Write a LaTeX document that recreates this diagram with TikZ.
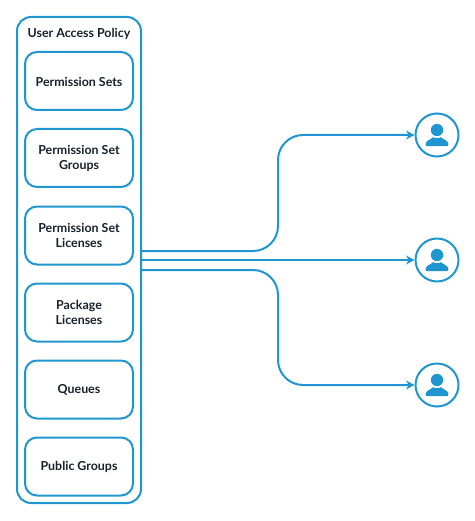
\documentclass[tikz,border=0pt]{standalone}
\usepackage{fontspec}
\setmainfont{Lato}
\usetikzlibrary{arrows.meta,calc}
\definecolor{sfblue}{HTML}{2096D0}
\definecolor{ink}{HTML}{16202B}
\tikzset{
  x=1pt,y=-1pt,
  outerbox/.style={draw=sfblue,line width=2pt,rounded corners=14pt,minimum width=124pt,minimum height=486pt,inner sep=0pt},
  itembox/.style={draw=sfblue,line width=2pt,rounded corners=12pt,minimum width=108pt,minimum height=58pt,align=center,inner sep=0pt},
  itemtext/.style={align=center,font=\fontsize{12.4}{15}\selectfont\bfseries,text=ink,inner sep=0pt},
  title/.style={font=\fontsize{12.4}{14}\selectfont\bfseries,text=ink,inner sep=0pt},
  usercircle/.style={draw=sfblue,line width=2pt,circle,minimum size=43pt,inner sep=0pt},
  link/.style={draw=sfblue,line width=2pt,rounded corners=25pt,-{Stealth[length=8.5pt,width=9pt]}},
}
\newcommand{\personicon}[1]{%
  \fill[sfblue] ($(#1)+(0,-5)$) circle (6.2pt);
  \fill[sfblue] ($(#1)+(-9.5,11.2)$)
    .. controls ($(#1)+(-11,11.2)$) and ($(#1)+(-11.4,10.5)$) .. ($(#1)+(-11.4,9)$)
    .. controls ($(#1)+(-11.4,5.5)$) and ($(#1)+(-6,4.5)$) .. ($(#1)+(-4,2.2)$)
    .. controls ($(#1)+(-2,3.4)$) and ($(#1)+(2,3.4)$) .. ($(#1)+(4,2.2)$)
    .. controls ($(#1)+(6,4.5)$) and ($(#1)+(11.4,5.5)$) .. ($(#1)+(11.4,9)$)
    .. controls ($(#1)+(11.4,10.5)$) and ($(#1)+(11,11.2)$) .. ($(#1)+(9.5,11.2)$)
    -- cycle;
}
\begin{document}
\begin{tikzpicture}
\useasboundingbox (0,0) rectangle (474,521);
\node[outerbox] (policy) at (79,260) {};
\node[title] (ptitle) at (79,33.5) {User Access Policy};
\node[itembox] (a) at (79,81) {};
\node[itembox] (b) at (79,158) {};
\node[itembox] (c) at (79,235.5) {};
\node[itembox] (d) at (79,312.5) {};
\node[itembox] (e) at (79,389.5) {};
\node[itembox] (f) at (79,466.5) {};
\node[itemtext] (ta) at (79,81.7) {Permission Sets};
\node[itemtext] (tb) at (79,158) {Permission Set\\Groups};
\node[itemtext] (tc) at (79,235.2) {Permission Set\\Licenses};
\node[itemtext] (td) at (79,312.2) {Package\\Licenses};
\node[itemtext] (te) at (79,390.2) {Queues};
\node[itemtext] (tf) at (79,467.2) {Public Groups};
\node[usercircle] (u1) at (437,135) {};
\node[usercircle] (u2) at (437,260) {};
\node[usercircle] (u3) at (437,385) {};
\personicon{u1}
\personicon{u2}
\personicon{u3}
\coordinate (s1) at (141,251);
\coordinate (s2) at (141,260);
\coordinate (s3) at (141,270);
\coordinate (t1) at (278,135);
\coordinate (t3) at (278,385);
\draw[link] (s1) -| (t1) -- (u1.west);
\draw[link] (s2) -- (u2.west);
\draw[link] (s3) -| (t3) -- (u3.west);
\end{tikzpicture}
\end{document}
